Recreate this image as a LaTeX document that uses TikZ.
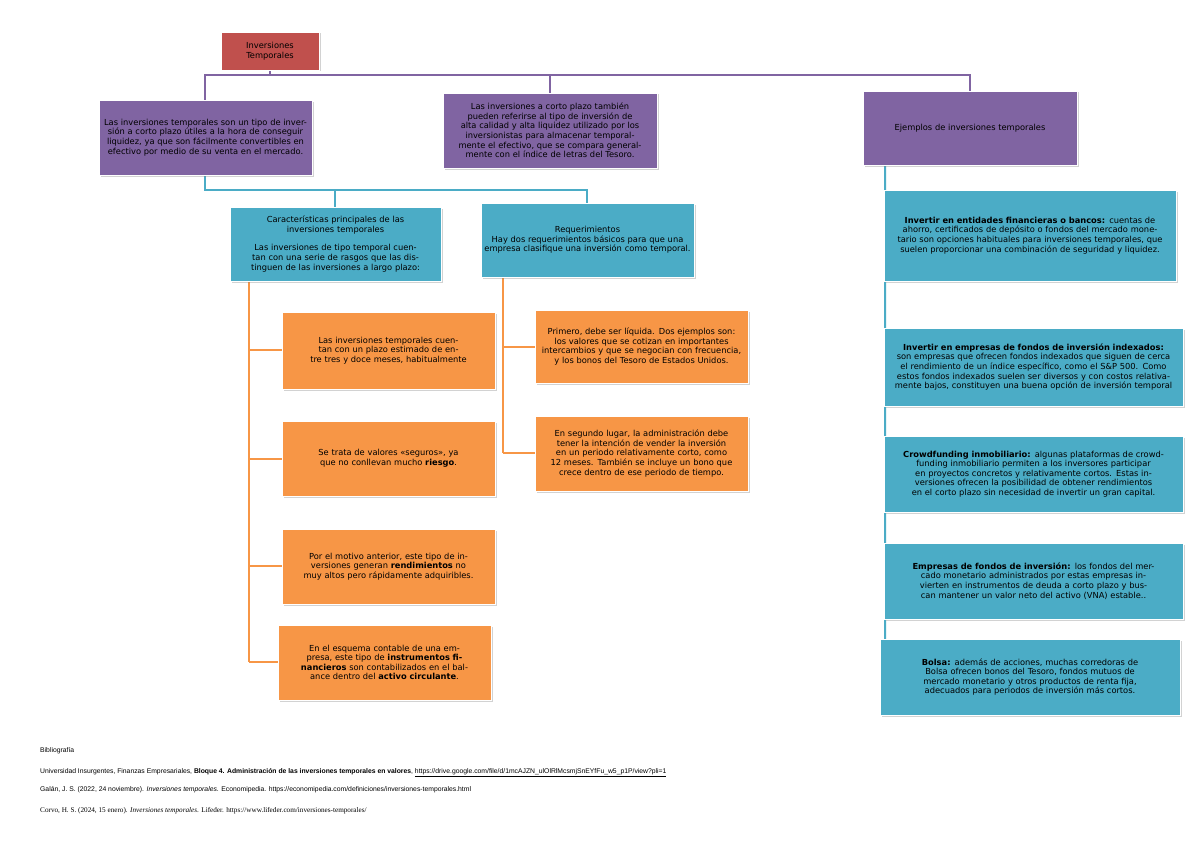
\documentclass[tikz,border=0pt]{standalone}
\usepackage{fontspec}
\setmainfont{DejaVu Sans}
\newfontfamily\bibfont{Liberation Sans}
\newfontfamily\bibserif{Liberation Serif}
\usetikzlibrary{shadows}
\definecolor{cred}{HTML}{C0504D}
\definecolor{cpur}{HTML}{8064A2}
\definecolor{cteal}{HTML}{4BACC6}
\definecolor{corg}{HTML}{F79646}
\tikzset{
 bx/.style={draw=white,line width=0.6pt,align=center,inner sep=2pt,font=\fontsize{8.3}{9.6}\selectfont,
   drop shadow={shadow xshift=1.5pt,shadow yshift=-1.5pt,opacity=0.35}},
 lnp/.style={draw=cpur,line width=2.2pt},
 lnt/.style={draw=cteal,line width=2.2pt},
 lno/.style={draw=corg,line width=2pt},
 bib/.style={anchor=west,inner sep=0pt,font=\bibfont\fontsize{6.8}{8}\selectfont},
}
\begin{document}
\begin{tikzpicture}[x=1pt,y=-1pt]
\useasboundingbox[fill=white] (0,0) rectangle (1200,859);
% connectors (drawn first)
\coordinate (p0) at (270,75);
\draw[lnp] (270,70) -- (270,75);
\draw[lnp] (205,100) -- (205,75) -- (970,75) -- (970,91);
\draw[lnp] (550,75) -- (550,93);
\draw[lnt] (205,175) -- (205,190) -- (587,190) -- (587,203);
\draw[lnt] (335,190) -- (335,207);
\draw[lno] (249,281) -- (249,662);
\foreach \y/\x in {350/282,459/282,566/282,662/278} \draw[lno] (249,\y) -- (\x,\y);
\draw[lno] (503,277) -- (503,453);
\foreach \y in {347,453} \draw[lno] (503,\y) -- (535,\y);
\draw[lnt,line width=2pt] (885,165) -- (885,640) -- (881,700);
% nodes
\node[bx,fill=cred,text width=92pt,minimum width=98pt,minimum height=38pt] (t) at (270,51) {Inversiones\\Temporales};
\node[bx,fill=cpur,text width=207pt,minimum width=213pt,minimum height=75pt] (p1) at (205.5,137.5) {Las inversiones temporales son un tipo de inversión a corto plazo útiles a la hora de conseguir liquidez, ya que son fácilmente convertibles en efectivo por medio de su venta en el mercado.};
\node[bx,fill=cpur,text width=208pt,minimum width=214pt,minimum height=75pt] (p2) at (550,130.5) {Las inversiones a corto plazo también pueden referirse al tipo de inversión de alta calidad y alta liquidez utilizado por los inversionistas para almacenar temporalmente el efectivo, que se compara generalmente con el índice de letras del Tesoro.};
\node[bx,fill=cpur,text width=208pt,minimum width=214pt,minimum height=74pt] (p3) at (970,128) {Ejemplos de inversiones temporales};
\node[bx,fill=cteal,text width=205pt,minimum width=211pt,minimum height=74pt] (a) at (335.5,244) {Características principales de las\\inversiones temporales\\[9pt]Las inversiones de tipo temporal cuentan con una serie de rasgos que las distinguen de las inversiones a largo plazo:};
\node[bx,fill=cteal,text width=207pt,minimum width=213pt,minimum height=74pt] (b) at (587.5,240) {Requerimientos\\Hay dos requerimientos básicos para que una empresa clasifique una inversión como temporal.};
\node[bx,fill=corg,text width=207pt,minimum width=213pt,minimum height=77pt] (o1) at (388.5,350.5) {Las inversiones temporales cuentan con un plazo estimado de entre tres y doce meses, habitualmente};
\node[bx,fill=corg,text width=207pt,minimum width=213pt,minimum height=75pt] (o2) at (388.5,458.5) {Se trata de valores «seguros», ya que no conllevan mucho \textbf{riesgo}.};
\node[bx,fill=corg,text width=207pt,minimum width=213pt,minimum height=75pt] (o3) at (388.5,566.5) {Por el motivo anterior, este tipo de inversiones generan \textbf{rendimientos} no muy altos pero rápidamente adquiribles.};
\node[bx,fill=corg,text width=207pt,minimum width=213pt,minimum height=75pt] (o4) at (384.5,662.5) {En el esquema contable de una empresa, este tipo de \textbf{instrumentos financieros} son contabilizados en el balance dentro del \textbf{activo circulante}.};
\node[bx,fill=corg,text width=207pt,minimum width=213pt,minimum height=73pt] (o5) at (641.5,346.5) {Primero, debe ser líquida. Dos ejemplos son: los valores que se cotizan en importantes intercambios y que se negocian con frecuencia, y los bonos del Tesoro de Estados Unidos.};
\node[bx,fill=corg,text width=207pt,minimum width=213pt,minimum height=75pt] (o6) at (641.5,453.5) {En segundo lugar, la administración debe tener la intención de vender la inversión en un periodo relativamente corto, como 12 meses. También se incluye un bono que crece dentro de ese periodo de tiempo.};
\node[bx,fill=cteal,text width=286pt,minimum width=292pt,minimum height=91pt] (r1) at (1030,235.5) {\textbf{Invertir en entidades financieras o bancos:} cuentas de ahorro, certificados de depósito o fondos del mercado monetario son opciones habituales para inversiones temporales, que suelen proporcionar una combinación de seguridad y liquidez.};
\node[bx,fill=cteal,text width=293pt,minimum width=299pt,minimum height=78pt] (r2) at (1033.5,367) {\textbf{Invertir en empresas de fondos de inversión indexados:} son empresas que ofrecen fondos indexados que siguen de cerca el rendimiento de un índice específico, como el S\&P 500. Como estos fondos indexados suelen ser diversos y con costos relativamente bajos, constituyen una buena opción de inversión temporal};
\node[bx,fill=cteal,text width=293pt,minimum width=299pt,minimum height=76pt] (r3) at (1033.5,474) {\textbf{Crowdfunding inmobiliario:} algunas plataformas de crowdfunding inmobiliario permiten a los inversores participar en proyectos concretos y relativamente cortos. Estas inversiones ofrecen la posibilidad de obtener rendimientos en el corto plazo sin necesidad de invertir un gran capital.};
\node[bx,fill=cteal,text width=293pt,minimum width=299pt,minimum height=76pt] (r4) at (1033.5,581) {\textbf{Empresas de fondos de inversión:} los fondos del mercado monetario administrados por estas empresas invierten en instrumentos de deuda a corto plazo y buscan mantener un valor neto del activo (VNA) estable..};
\node[bx,fill=cteal,text width=294pt,minimum width=300pt,minimum height=76pt] (r5) at (1030,677) {\textbf{Bolsa:} además de acciones, muchas corredoras de Bolsa ofrecen bonos del Tesoro, fondos mutuos de mercado monetario y otros productos de renta fija, adecuados para periodos de inversión más cortos.};
% bibliography
\node[bib] (b0) at (40,751) {Bibliografía};
\node[bib] (b1) at (40,773) {Universidad Insurgentes, Finanzas Empresariales, \textbf{Bloque 4. Administración de las inversiones temporales en valores}, \underline{https://drive.google.com/file/d/1mcAJZN\_ulOlRlMcsmjSnEYfFu\_w5\_p1P/view?pli=1}};
\node[bib] (b2) at (40,790) {Galán, J. S. (2022, 24 noviembre). \textit{Inversiones temporales}. Economipedia. https://economipedia.com/definiciones/inversiones-temporales.html};
\node[bib,font=\bibserif\fontsize{7.2}{8}\selectfont] (b3) at (40,811) {Corvo, H. S. (2024, 15 enero). \textit{Inversiones temporales}. Lifeder. https://www.lifeder.com/inversiones-temporales/};
\end{tikzpicture}
\end{document}
